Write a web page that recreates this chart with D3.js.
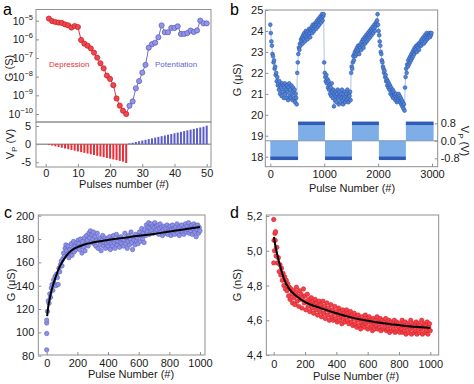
<!DOCTYPE html>
<html><head><meta charset="utf-8">
<script src="https://cdn.jsdelivr.net/npm/d3@7"></script>
<style>
body{margin:0;background:#fff;}
svg{display:block;font-family:"Liberation Sans",Arial,sans-serif;}
</style></head><body>
<svg id="fig" width="474" height="384"></svg>
<script>
// ---------- Panel a ----------
const aDepX = [1,2,3,4,5,6,7,8,9,10,11,12,13,14,15,16,17,18,19,20,21,22,23,24,25];
const aDepG = [1.3e-5,9.5e-6,8.5e-6,7.9e-6,7.6e-6,6.3e-6,5.6e-6,4.3e-6,5.2e-6,4.6e-6,9.3e-7,5.9e-7,4.6e-7,3.3e-7,1.95e-7,1.05e-7,5.2e-8,2.8e-8,1.15e-8,7.6e-9,3.5e-9,6.8e-10,2.8e-10,1.5e-10,1.0e-10];
const aPotX = [25,26,27,28,29,30,31,32,33,34,35,36,37,38,39,40,41,42,43,44,45,46,47,48,49,50];
const aPotG = [1.0e-10,2.75e-10,4.7e-10,2.4e-9,5.8e-9,1.66e-8,4.3e-8,3.6e-7,5.5e-7,6.6e-7,1.3e-6,5.6e-6,2.4e-6,2.4e-6,4.1e-6,4.1e-6,5.0e-6,1.95e-6,1.95e-6,2.2e-6,2.95e-6,2.5e-6,3.0e-6,1.0e-5,7.2e-6,7.2e-6];
const aDepV = [-0.2,-0.4,-0.6,-0.8,-1.0,-1.2,-1.4,-1.6,-1.8,-2.0,-2.2,-2.4,-2.6,-2.8,-3.0,-3.2,-3.4,-3.6,-3.8,-4.0,-4.2,-4.4,-4.6,-4.8,-5.2];
const aPotVX = [26,27,28,29,30,31,32,33,34,35,36,37,38,39,40,41,42,43,44,45,46,47,48,49,50];
const aPotV = [0.2,0.4,0.6,0.8,1.0,1.2,1.4,1.6,1.8,2.0,2.2,2.4,2.6,2.8,3.0,3.2,3.4,3.6,3.8,4.0,4.2,4.4,4.6,4.8,5.1];
const aXTicks = [0,10,20,30,40,50];
const aLogTicks = [-10,-9,-8,-7,-6,-5];
const aVTicks = [-5,0,5];

// ---------- Panel b ----------
const bSeg1 = [24.3,23.9,23.5,23.3,22.9,22.8,22.5,22.6,22.2,22.3,21.9,22.0,21.6,21.8,21.4,21.5,21.2,21.6,21.0,21.4,21.3,20.9,21.5,21.1,21.4,20.8,21.3,21.5,21.0,21.2,20.8,21.4,21.1,20.7,21.3,21.5,20.9,21.2,20.8,21.4,21.0,20.7,21.3,21.1,20.8,21.2,20.6,21.0,20.8,20.5];
const bSeg2 = [22.0,22.5,22.9,23.2,23.1,23.4,23.3,23.6,23.5,23.7,23.4,23.8,23.6,23.9,23.5,23.8,24.0,23.7,23.9,23.6,24.0,23.8,24.1,23.9,23.7,24.1,24.0,24.2,23.9,24.3,24.1,24.0,24.3,24.2,24.4,24.1,24.3,24.5,24.2,24.4,24.6,24.3,24.5,24.7,24.4,24.6,24.8,24.5,24.7,24.8];
const bSeg3 = [22.5,22.0,21.8,21.6,21.9,21.5,21.7,21.3,21.6,21.2,21.4,21.0,21.3,20.9,21.5,21.1,20.8,21.2,20.4,21.0,20.7,21.1,20.9,20.6,21.0,21.2,20.8,20.5,21.1,20.9,20.6,21.0,20.8,21.2,20.7,20.5,21.0,20.8,21.1,20.6,20.9,21.0,20.7,21.2,20.8,20.6,21.0,20.9,21.1,20.7];
const bSeg4 = [22.0,22.3,22.2,22.5,22.8,22.6,22.9,23.0,22.8,23.1,22.9,23.2,23.0,23.3,23.1,22.9,23.3,23.2,23.4,23.1,23.5,23.3,23.6,23.2,23.5,23.7,23.4,23.6,23.8,23.5,23.7,23.9,23.6,23.8,24.0,23.7,23.9,24.1,23.8,24.0,24.2,23.9,24.1,24.3,24.0,24.2,24.4,24.3,24.5,24.8];
const bSeg5 = [24.3,24.0,23.8,23.5,23.3,23.0,22.9,22.6,22.5,22.3,22.2,22.0,22.1,21.8,21.9,21.6,21.7,21.4,21.6,21.3,21.5,21.2,21.4,21.0,21.3,21.1,20.9,21.2,20.8,21.1,20.9,21.0,20.7,21.0,20.8,20.6,20.9,20.7,21.0,20.8,20.9,20.6,20.8,20.5,20.7,20.4,20.6,20.3,20.5,20.2];
const bSeg6 = [21.3,21.8,22.2,22.0,22.4,22.3,22.6,22.4,22.7,22.5,22.8,22.6,22.9,22.7,23.0,22.8,23.1,22.9,23.2,23.0,23.1,23.3,23.0,23.3,23.2,23.4,23.1,23.4,23.3,23.5,23.3,23.6,23.4,23.5,23.7,23.4,23.6,23.8,23.5,23.7,23.9,23.6,23.8,23.7,23.9,23.8,23.7,23.9,23.8,23.9];
const bSegStart = [0,500,1000,1500,2000,2500];
const bPulseStart = [0,515,1015,1515,2015,2515];
const bPulseEnd = [515,1015,1515,2015,2515,3030];
const bPulseV = [-0.8,0.8,-0.8,0.8,-0.8,0.8];
const bXTicks = [0,1000,2000,3000];
const bGTicks = [18,19,20,21,22,23,24,25];
const bVTicks = [-0.8,0.0,0.8];

// ---------- Panel c ----------
const cStartX = [0,0,0,0];
const cStartY = [85,99,108,110.5];
const cY = [118,127,125,133,130,138,141,136,145,142,148,140,150,147,141,155,152,158,161,157,
163,168,165,172,175,170,167,174,164,171,168,176,166,172,178,169,174,171,177,173,
179,176,171,180,174,168,178,173,181,170,176,183,179,174,185,181,187,177,184,180,
186,176,182,174,179,185,172,178,181,175,170,179,183,174,177,181,172,176,180,174,
178,182,171,176,180,174,183,177,172,179,184,175,178,181,173,177,182,176,180,174,
179,185,176,181,172,178,183,175,180,186,177,171,182,179,175,184,178,181,176,183,
186,178,183,189,180,185,177,188,183,192,186,190,194,184,189,193,187,191,185,190,
194,186,191,188,192,184,189,193,186,190,183,188,191,185,189,186,192,184,189,187,
191,183,188,192,185,189,184,190,187,193,185,189,183,191,187,192,186,189,184,190,
193,186,191,188,194,185,190,187,192,184,189,193,186,191,182,188,192,185,190,187];
const cFitX = [3,10,20,30,45,60,80,100,130,160,200,250,300,400,500,600,700,800,900,1000];
const cFitY = [114,122,129,135,142,148,155,160,166,170,173,175.5,177,179.2,181,182.8,184.3,186.5,188.3,190.3];
const cXTicks = [0,200,400,600,800,1000];
const cYTicks = [80,100,120,140,160,180,200];

// ---------- Panel d ----------
const dStartX = [0,0,2,8,12];
const dStartY = [5.18,4.93,5.06,5.10,5.11];
const dY = [5.00,5.06,4.97,5.02,4.93,4.96,4.88,4.92,4.86,4.90,4.83,4.87,4.80,4.85,4.78,4.83,4.77,4.81,4.74,4.79,
4.72,4.78,4.75,4.70,4.77,4.73,4.69,4.76,4.79,4.71,4.74,4.68,4.77,4.72,4.75,4.67,4.73,4.78,4.70,4.74,
4.66,4.71,4.75,4.68,4.72,4.65,4.70,4.73,4.67,4.71,4.64,4.69,4.72,4.66,4.70,4.63,4.68,4.71,4.65,4.69,
4.62,4.67,4.71,4.64,4.68,4.61,4.66,4.70,4.63,4.67,4.60,4.65,4.69,4.62,4.66,4.60,4.64,4.68,4.61,4.65,
4.59,4.63,4.67,4.60,4.65,4.62,4.58,4.66,4.61,4.64,4.59,4.63,4.66,4.60,4.64,4.58,4.62,4.65,4.59,4.63,
4.57,4.61,4.64,4.58,4.62,4.56,4.60,4.63,4.57,4.61,4.55,4.59,4.62,4.57,4.60,4.56,4.63,4.58,4.61,4.55,
4.59,4.62,4.56,4.60,4.57,4.54,4.61,4.58,4.55,4.60,4.57,4.62,4.55,4.59,4.56,4.61,4.54,4.58,4.60,4.55,
4.59,4.56,4.61,4.54,4.58,4.55,4.60,4.53,4.57,4.59,4.54,4.58,4.55,4.60,4.53,4.57,4.59,4.54,4.58,4.56,
4.53,4.58,4.55,4.60,4.53,4.57,4.54,4.59,4.52,4.56,4.58,4.53,4.57,4.55,4.60,4.52,4.56,4.58,4.53,4.57,
4.54,4.59,4.52,4.56,4.58,4.53,4.57,4.55,4.60,4.52,4.56,4.58,4.53,4.57,4.54,4.59,4.52,4.56,4.58,4.54];
const dFitX = [2,10,20,30,45,65,95,150,210,300,400,500,600,700,800,900,1000];
const dFitY = [5.08,5.03,4.99,4.95,4.90,4.84,4.785,4.735,4.70,4.67,4.64,4.615,4.597,4.583,4.572,4.562,4.555];
const dXTicks = [0,200,400,600,800,1000];
const dYTicks = [4.4,4.6,4.8,5.0,5.2];

// ---------- drawing ----------
const FONT = '"Liberation Sans", Arial, sans-serif';
const FRAME = "#8f8f8f";
const INT = d3.format("d");
const svg = d3.select("#fig");

function frame(x0,y0,x1,y1){
  svg.append("rect").attr("x",x0).attr("y",y0).attr("width",x1-x0).attr("height",y1-y0)
    .attr("fill","none").attr("stroke",FRAME).attr("stroke-width",1);
}
function axis(gen, tx, ty, pad, fmt, size){
  gen.tickSizeInner(-3).tickSizeOuter(0).tickPadding(pad).tickFormat(fmt || INT);
  const g = svg.append("g").attr("transform",`translate(${tx},${ty})`).call(gen);
  g.attr("font-family",FONT).attr("font-size",size||11);
  g.select(".domain").remove();
  g.selectAll(".tick line").attr("stroke",FRAME);
  g.selectAll(".tick text").attr("fill","#1a1a1a");
  return g;
}
function label(txt,x,y,opts){
  opts = opts||{};
  const t = svg.append("text").attr("x",x).attr("y",y).attr("font-family",FONT)
    .attr("font-size",opts.size||11).attr("fill",opts.fill||"#1a1a1a")
    .attr("text-anchor",opts.anchor||"middle");
  if (opts.rot) t.attr("transform",`rotate(${opts.rot},${x},${y})`);
  t.text(txt);
  return t;
}
function vpLabel(x,y,rot){
  const t = svg.append("text").attr("x",x).attr("y",y).attr("font-family",FONT)
    .attr("font-size",11).attr("fill","#1a1a1a").attr("text-anchor","middle")
    .attr("transform",`rotate(${rot},${x},${y})`);
  t.append("tspan").text("V");
  t.append("tspan").attr("font-size",8).attr("dy",3).text("P");
  t.append("tspan").attr("dy",-3).text(" (V)");
}

// panel letters
label("a",3,15,{size:16,anchor:"start",fill:"#000"});
label("b",230,15,{size:16,anchor:"start",fill:"#000"});
label("c",4,218,{size:16,anchor:"start",fill:"#000"});
label("d",230,218,{size:16,anchor:"start",fill:"#000"});

// ===== Panel a =====
{
  const x = d3.scaleLinear([0,50],[45.7,206.7]);
  const y = d3.scaleLog([1e-10,1e-5],[114,20.7]);
  const yv = d3.scaleLinear([-5,5],[162.3,126]);
  frame(36,9.5,211,122);
  frame(36,122,211,167);
  axis(d3.axisLeft(y).tickValues(aLogTicks.map(e=>Math.pow(10,e))), 36, 0, 3, ()=>"");
  aLogTicks.forEach(e=>{
    const t = svg.append("text").attr("x",33).attr("y",y(Math.pow(10,e))+4)
      .attr("font-family",FONT).attr("font-size",10.5).attr("text-anchor","end").attr("fill","#1a1a1a");
    t.append("tspan").text("10");
    t.append("tspan").attr("font-size",7.5).attr("dy",-5).text("\u2212"+(-e));
  });
  axis(d3.axisLeft(yv).tickValues(aVTicks), 36, 0, 5, d=>d<0?"-"+(-d):String(d), 11);
  axis(d3.axisBottom(x).tickValues(aXTicks), 0, 167, 2.5, null, 11);
  svg.append("line").attr("x1",36).attr("x2",211).attr("y1",yv(0)).attr("y2",yv(0))
    .attr("stroke","#9a9a9a").attr("stroke-width",1.5);
  svg.append("g").selectAll("rect").data(aDepX).join("rect")
    .attr("x",d=>x(d)-1).attr("width",2)
    .attr("y",()=>yv(0)).attr("height",(d,i)=>yv(aDepV[i])-yv(0))
    .attr("fill","#e8303a");
  svg.append("g").selectAll("rect").data(aPotVX).join("rect")
    .attr("x",d=>x(d)-1).attr("width",2)
    .attr("y",(d,i)=>yv(aPotV[i])).attr("height",(d,i)=>yv(0)-yv(aPotV[i]))
    .attr("fill","#5a5cc8");
  const line = d3.line().x(d=>x(d[0])).y(d=>y(d[1]));
  const dep = aDepX.map((v,i)=>[v,aDepG[i]]);
  const pot = aPotX.map((v,i)=>[v,aPotG[i]]);
  svg.append("path").attr("d",line(dep)).attr("fill","none").attr("stroke","#e3343d").attr("stroke-width",1);
  svg.append("path").attr("d",line(pot)).attr("fill","none").attr("stroke","#6b6dcf").attr("stroke-width",1);
  svg.append("g").selectAll("circle").data(dep).join("circle")
    .attr("cx",d=>x(d[0])).attr("cy",d=>y(d[1])).attr("r",2.6)
    .attr("fill","#f0474f").attr("stroke","#c81c25").attr("stroke-width",0.7);
  svg.append("g").selectAll("circle").data(pot.slice(1)).join("circle")
    .attr("cx",d=>x(d[0])).attr("cy",d=>y(d[1])).attr("r",2.6)
    .attr("fill","#9496e4").attr("stroke","#5557c0").attr("stroke-width",0.7);
  label("Depression",49,67,{size:8,anchor:"start",fill:"#e3303a"});
  label("Potentiation",155,67,{size:8,anchor:"start",fill:"#6366cc"});
  label("G (S)",13,68,{rot:-90});
  vpLabel(14,144,-90);
  label("Pulses number (#)",124,188);
}

// ===== Panel b =====
{
  const x = d3.scaleLinear([0,3000],[270.3,432]);
  const y = d3.scaleLinear([18,25],[156.7,10]);
  const yv = d3.scaleLinear([-0.8,0.8],[158.3,123.3]);
  svg.append("g").selectAll("rect").data(bPulseV).join("rect")
    .attr("x",(d,i)=>x(bPulseStart[i])).attr("width",(d,i)=>x(bPulseEnd[i])-x(bPulseStart[i]))
    .attr("y",d=>Math.min(yv(0),yv(d))).attr("height",d=>Math.abs(yv(d)-yv(0)))
    .attr("fill","#7eaee8");
  svg.append("line").attr("x1",265.3).attr("x2",437.7).attr("y1",yv(0)).attr("y2",yv(0))
    .attr("stroke","#7f93b8").attr("stroke-width",1);
  svg.append("g").selectAll("line").data(bPulseV).join("line")
    .attr("x1",(d,i)=>x(bPulseStart[i])).attr("x2",(d,i)=>x(bPulseEnd[i]))
    .attr("y1",d=>yv(d)).attr("y2",d=>yv(d))
    .attr("stroke","#2f5cb6").attr("stroke-width",3.5);
  frame(265.3,10,437.7,166.7);
  axis(d3.axisLeft(y).tickValues(bGTicks), 265.3, 0, 2, null, 11);
  axis(d3.axisBottom(x).tickValues(bXTicks), 0, 166.7, 3.5, null, 11);
  axis(d3.axisRight(yv).tickValues(bVTicks), 437.7, 0, 3, d=>d<0?"-"+(-d).toFixed(1):d.toFixed(1), 11);
  const segs = [bSeg1,bSeg2,bSeg3,bSeg4,bSeg5,bSeg6];
  const pts = [];
  segs.forEach((s,k)=>s.forEach((v,i)=>pts.push([bSegStart[k]+i*10, v])));
  svg.append("path").attr("d",d3.line().x(d=>x(d[0])).y(d=>y(d[1]))(pts))
    .attr("fill","none").attr("stroke","#9bb5e6").attr("stroke-width",0.8);
  svg.append("g").selectAll("circle").data(pts).join("circle")
    .attr("cx",d=>x(d[0])).attr("cy",d=>y(d[1])).attr("r",1.9)
    .attr("fill","#5585d6").attr("stroke","#2c58ad").attr("stroke-width",0.6);
  label("G (\u03bcS)",241,80,{rot:-90});
  vpLabel(460.5,141,90);
  label("Pulse Number (#)",352,191.5);
}

// ===== Panel c =====
{
  const x = d3.scaleLinear([0,1000],[46.7,200]);
  const y = d3.scaleLinear([80,200],[355.7,215.7]);
  frame(38.3,215,205,355);
  axis(d3.axisLeft(y).tickValues(cYTicks), 38.3, 0, 4, null, 11);
  axis(d3.axisBottom(x).tickValues(cXTicks), 0, 355, 4, null, 11);
  const pts = cStartX.map((v,i)=>[v,cStartY[i]]).concat(cY.map((v,i)=>[(i+1)*5, v]));
  svg.append("g").selectAll("circle").data(pts).join("circle")
    .attr("cx",d=>x(d[0])).attr("cy",d=>y(d[1])).attr("r",2.2)
    .attr("fill","#8e92e2").attr("stroke","#5a5fc6").attr("stroke-width",0.6);
  svg.append("path").attr("d",d3.line().curve(d3.curveMonotoneX).x(d=>x(d)).y((d,i)=>y(cFitY[i]))(cFitX))
    .attr("fill","none").attr("stroke","#000").attr("stroke-width",2);
  label("G (\u03bcS)",15,285,{rot:-90});
  label("Pulse Number (#)",131,378);
}

// ===== Panel d =====
{
  const x = d3.scaleLinear([0,1000],[273.7,430.3]);
  const y = d3.scaleLinear([4.4,5.2],[355,216]);
  frame(266.3,215,438.7,355);
  axis(d3.axisLeft(y).tickValues(dYTicks), 266.3, 0, 4, d=>d3.format(".1f")(d).replace(".",","), 11);
  axis(d3.axisBottom(x).tickValues(dXTicks), 0, 355, 5, null, 11);
  const pts = dStartX.map((v,i)=>[v,dStartY[i]]).concat(dY.map((v,i)=>[(i+1)*5, v]));
  svg.append("g").selectAll("circle").data(pts).join("circle")
    .attr("cx",d=>x(d[0])).attr("cy",d=>y(d[1])).attr("r",2.2)
    .attr("fill","#f2434b").attr("stroke","#d61d27").attr("stroke-width",0.6);
  svg.append("path").attr("d",d3.line().curve(d3.curveMonotoneX).x(d=>x(d)).y((d,i)=>y(dFitY[i]))(dFitX))
    .attr("fill","none").attr("stroke","#000").attr("stroke-width",2);
  label("G (nS)",241,285,{rot:-90});
  label("Pulse Number (#)",356,380);
}
</script>
</body></html>
